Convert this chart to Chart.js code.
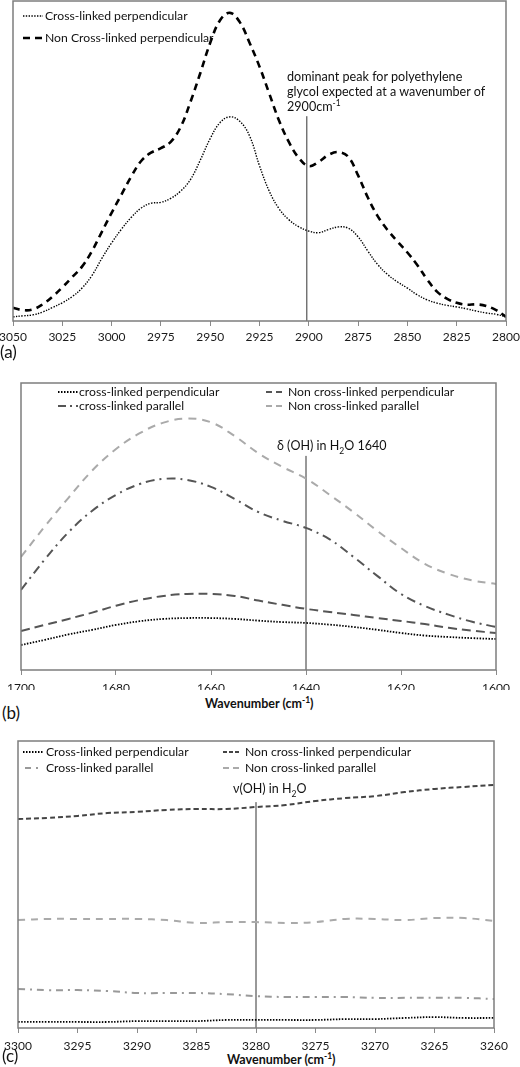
<!DOCTYPE html>
<html>
<head>
<meta charset="utf-8">
<script src="https://cdn.jsdelivr.net/npm/chart.js@4.4.0/dist/chart.umd.min.js"></script>
<style>
  body { margin: 0; background: #fff; }
  #page { position: relative; width: 520px; height: 1067px; overflow: hidden; font-family: Lato, sans-serif; color: #111; }
  canvas { position: absolute; left: 0; }
  .t { position: absolute; white-space: nowrap; font-size: 12.2px; line-height: 16px; z-index: 2; }
  .t sub, .t sup { font-size: 8.5px; line-height: 0; }
  .b { font-weight: bold; font-size: 12.5px; }
  .lab { font-size: 17px; line-height: 20px; }
  svg { position: absolute; z-index: 2; }
</style>
</head>
<body>
<div id="page">
  <canvas id="chartA" width="520" height="345" style="top:0px;width:520px;height:345px"></canvas>
  <canvas id="chartB" width="520" height="310" style="top:380px;width:520px;height:310px"></canvas>
  <canvas id="chartC" width="520" height="312" style="top:738px;width:520px;height:312px"></canvas>

  <!-- panel (a) legend + note -->
  <svg style="left:23px;top:11px" width="20" height="10"><line x1="0" y1="5" x2="20" y2="5" stroke="#000" stroke-width="1.4" stroke-dasharray="1.4 1.4"/></svg>
  <div class="t" style="left:45px;top:8px">Cross-linked perpendicular</div>
  <svg style="left:23px;top:33px" width="20" height="10"><line x1="0" y1="5" x2="20" y2="5" stroke="#000" stroke-width="2.5" stroke-dasharray="7 5"/></svg>
  <div class="t" style="left:45px;top:30px">Non Cross-linked perpendicular</div>
  <div class="t" style="left:287px;top:69px;line-height:15px;font-size:12.6px">dominant peak for polyethylene<br>glycol expected at a wavenumber of<br>2900cm<sup>-1</sup></div>
  <div class="t lab" style="left:0px;top:342px">(a)</div>

  <!-- panel (b) legend + note -->
  <svg style="left:58px;top:387px" width="20" height="10"><line x1="0" y1="5" x2="20" y2="5" stroke="#000" stroke-width="1.8" stroke-dasharray="1.5 1.5"/></svg>
  <div class="t" style="left:79px;top:384px">cross-linked perpendicular</div>
  <svg style="left:58px;top:401px" width="20" height="10"><line x1="0" y1="5" x2="20" y2="5" stroke="#555" stroke-width="2" stroke-dasharray="8 4 2 4"/></svg>
  <div class="t" style="left:79px;top:398px">cross-linked parallel</div>
  <svg style="left:266px;top:387px" width="18" height="10"><line x1="0" y1="5" x2="18" y2="5" stroke="#555" stroke-width="2" stroke-dasharray="6 4"/></svg>
  <div class="t" style="left:288px;top:384px">Non cross-linked perpendicular</div>
  <svg style="left:266px;top:401px" width="18" height="10"><line x1="0" y1="5" x2="18" y2="5" stroke="#aaa" stroke-width="2" stroke-dasharray="6 4"/></svg>
  <div class="t" style="left:288px;top:398px">Non cross-linked parallel</div>
  <div class="t" style="left:277px;top:438px;font-size:12.5px">&delta; (OH) in H<sub>2</sub>O 1640</div>
  <div class="t b" style="left:205px;top:696px">Wavenumber (cm<sup>-1</sup>)</div>
  <div class="t lab" style="left:2px;top:703px">(b)</div>

  <!-- panel (c) legend + note -->
  <svg style="left:23px;top:747px" width="20" height="10"><line x1="0" y1="5" x2="20" y2="5" stroke="#000" stroke-width="1.8" stroke-dasharray="1.5 1.5"/></svg>
  <div class="t" style="left:46px;top:744px">Cross-linked perpendicular</div>
  <svg style="left:25px;top:763px" width="18" height="10"><line x1="0" y1="5" x2="18" y2="5" stroke="#999" stroke-width="2" stroke-dasharray="6 5 2 5"/></svg>
  <div class="t" style="left:46px;top:760px">Cross-linked parallel</div>
  <svg style="left:223px;top:747px" width="18" height="10"><line x1="0" y1="5" x2="18" y2="5" stroke="#444" stroke-width="2" stroke-dasharray="4 2"/></svg>
  <div class="t" style="left:245px;top:744px">Non cross-linked perpendicular</div>
  <svg style="left:223px;top:763px" width="18" height="10"><line x1="0" y1="5" x2="18" y2="5" stroke="#aaa" stroke-width="2" stroke-dasharray="6 4"/></svg>
  <div class="t" style="left:245px;top:760px">Non cross-linked parallel</div>
  <div class="t" style="left:233px;top:781px;font-size:12.5px">&nu;(OH) in H<sub>2</sub>O</div>
  <div class="t b" style="left:227px;top:1052px">Wavenumber (cm<sup>-1</sup>)</div>
  <div class="t lab" style="left:2px;top:1046px">(c)</div>
</div>

<script>
// (a) C-H stretching region, 3050 -> 2800 cm-1
const waveA = [3050, 3045, 3040, 3035, 3030, 3025, 3020, 3015, 3010, 3005, 3000,
  2995, 2990, 2985, 2980, 2975, 2970, 2965, 2960, 2955, 2950,
  2945, 2940, 2935, 2930, 2925, 2920, 2915, 2910, 2905, 2900,
  2895, 2890, 2885, 2880, 2875, 2870, 2865, 2860, 2855, 2850,
  2845, 2840, 2835, 2830, 2825, 2820, 2815, 2810, 2805, 2800];
const crossPerpA = [1.3, 1.6, 1.9, 2.8, 4.2, 5.7, 7.6, 10.3, 14.2, 19.5, 24.4,
  28.7, 32.4, 35.3, 36.8, 37.1, 38.3, 40.6, 44.2, 50.3, 57,
  62, 63.8, 62.4, 57.8, 48.5, 40.5, 35, 31.6, 29.4, 28.1,
  27.6, 28.6, 29.4, 29, 26.3, 21.8, 17.6, 14.5, 12.2, 10.3,
  8.2, 6.6, 5.6, 4.9, 4.4, 3.8, 3.1, 2.5, 2.1, 1.3];
const nonCrossPerpA = [4.1, 3.4, 3.6, 5.2, 7.6, 10.5, 13.7, 17, 21.8, 27.8, 33.8,
  39.5, 45.2, 50, 52.6, 54, 56, 60.6, 68.5, 77.5, 86.9,
  94, 96.3, 93.4, 86.9, 79.5, 71, 62.5, 55.8, 50.9, 48.4,
  49.7, 51.9, 52.8, 51.3, 45.5, 38.5, 32.7, 28.4, 24.8, 21.4,
  17.5, 13, 9.2, 7, 5.7, 5.1, 5.2, 4.7, 3.4, 1.3];
const markA = 2901;       // PEG peak marker
const markTopA = 64;

// (b) water bending region, 1700 -> 1600 cm-1
const waveB = [1700, 1695, 1690, 1685, 1680, 1675, 1670, 1665, 1660, 1655, 1650,
  1645, 1640, 1635, 1630, 1625, 1620, 1615, 1610, 1605, 1600];
const crossPerpB = [8.7, 10.5, 12.4, 14, 15.7, 17, 17.8, 18.1, 18.1, 17.8, 17.2,
  16.7, 16.4, 15.8, 15, 14, 12.9, 12, 11.5, 11.1, 10.8];
const nonCrossPerpB = [13.6, 15.7, 17.8, 20, 22.4, 24.4, 25.8, 26.5, 26.5, 25.8, 24.2,
  22.7, 21.3, 20.2, 19.2, 18.1, 17.1, 16, 14.7, 13.7, 12.9];
const crossParB = [27.9, 38.5, 48, 55.5, 61, 64.8, 66.6, 66.2, 63.8, 59.6, 55,
  52, 49.5, 45.5, 39.4, 32.8, 26.5, 22.3, 19.3, 16.8, 15];
const nonCrossParB = [39.4, 50, 60, 69.5, 77, 82.5, 86.2, 87.6, 86.3, 81.5, 75.5,
  70.8, 66.7, 61, 55, 48.5, 42.5, 37, 33.5, 31.2, 30];
const markB = 1640;
const markTopB = 74.6;

// (c) O-H stretching region, 3300 -> 3260 cm-1
const waveC = [3300, 3297.5, 3295, 3292.5, 3290, 3287.5, 3285, 3282.5, 3280,
  3277.5, 3275, 3272.5, 3270, 3267.5, 3265, 3262.5, 3260];
const crossPerpC = [2.1, 2.1, 2.1, 2.1, 2.4, 2.4, 2.4, 2.8, 2.8, 2.8, 2.8, 3.1, 3.1, 3.5, 3.8, 3.5, 3.5];
const nonCrossPerpC = [72.8, 73.2, 73.9, 74.9, 75.3, 76, 76.3, 76.3, 77, 77.7, 79.1, 80.1, 80.8, 82.2, 83.3, 84, 84.7];
const crossParC = [13.6, 13.2, 13.2, 12.9, 12.2, 12.2, 12.2, 11.8, 11.1, 10.8, 10.8, 10.8, 10.5, 10.5, 10.5, 10.5, 10.1];
const nonCrossParC = [37.6, 38, 38, 38, 38, 37.6, 36.6, 36.9, 36.9, 36.6, 36.9, 38, 38, 37.6, 38.3, 38.3, 37.3];
const markC = 3280;
const markTopC = 78.7;

const frame = {
  id: "frame",
  afterDatasetsDraw(chart) {
    const a = chart.chartArea;
    const ctx = chart.ctx;
    ctx.save();
    ctx.strokeStyle = "#7d7d7d";
    ctx.lineWidth = 1.5;
    ctx.strokeRect(a.left, a.top, a.right - a.left, a.bottom - a.top);
    ctx.restore();
  },
};

function pts(xs, ys) {
  return xs.map((x, i) => ({ x: x, y: ys[i] }));
}

function series(xs, ys, color, width, dash) {
  return {
    data: pts(xs, ys),
    borderColor: color,
    borderWidth: width,
    borderDash: dash,
    pointRadius: 0,
    tension: 0.4,
    fill: false,
  };
}

function marker(x, top) {
  return {
    data: [{ x: x, y: 0 }, { x: x, y: top }],
    borderColor: "#333",
    borderWidth: 1,
    pointRadius: 0,
    tension: 0,
  };
}

function makeChart(id, datasets, xr, pad, axisH, tickPad) {
  return new Chart(document.getElementById(id), {
    type: "line",
    data: { datasets: datasets },
    plugins: [frame],
    options: {
      responsive: false,
      animation: false,
      layout: { padding: pad },
      plugins: { legend: { display: false }, tooltip: { enabled: false } },
      scales: {
        x: {
          type: "linear",
          reverse: true,
          min: xr[0],
          max: xr[1],
          afterFit: function (s) {
            s.height = axisH;
            s.paddingLeft = 0;
            s.paddingRight = 0;
          },
          grid: { drawOnChartArea: false, drawTicks: true, tickLength: 5, color: "#8a8a8a" },
          border: { display: false },
          ticks: {
            stepSize: xr[2],
            padding: tickPad,
            color: "#1a1a1a",
            autoSkip: false,
            maxRotation: 0,
            font: { family: "Lato", size: 12 },
            callback: function (v) { return String(v); },
          },
        },
        y: { display: false, min: 0, max: 100 },
      },
    },
  });
}

window.addEventListener("load", function () {
  makeChart("chartA", [
    series(waveA, crossPerpA, "#000", 1.4, [1.4, 1.4]),
    series(waveA, nonCrossPerpA, "#000", 2.6, [7, 5]),
    marker(markA, markTopA),
  ], [2800, 3050, 25], { left: 13, right: 14, top: 1, bottom: 0 }, 24, 4);

  makeChart("chartB", [
    series(waveB, crossPerpB, "#000", 1.8, [1.5, 1.5]),
    series(waveB, nonCrossPerpB, "#555", 2, [9, 5]),
    series(waveB, crossParB, "#555", 2, [9, 5, 2, 5]),
    series(waveB, nonCrossParB, "#aaa", 2, [8, 6]),
    marker(markB, markTopB),
  ], [1600, 1700, 20], { left: 21, right: 24, top: 3, bottom: 0 }, 20, 6);

  makeChart("chartC", [
    series(waveC, crossPerpC, "#000", 1.8, [1.5, 1.5]),
    series(waveC, nonCrossPerpC, "#444", 2, [5, 3]),
    series(waveC, crossParC, "#999", 2, [7, 5, 2, 5]),
    series(waveC, nonCrossParC, "#aaa", 2, [7, 6]),
    marker(markC, markTopC),
  ], [3260, 3300, 5], { left: 18, right: 26, top: 3, bottom: 0 }, 22, 6);
});
</script>
</body>
</html>
